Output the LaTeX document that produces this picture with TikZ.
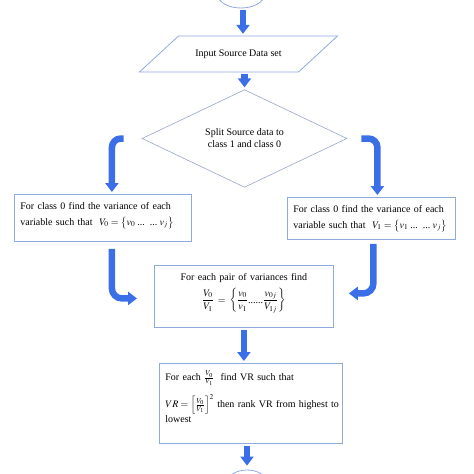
\documentclass[tikz,border=0pt]{standalone}
\usepackage{mathptmx}
\usepackage{fontspec}
\setmainfont{Liberation Serif}
\usetikzlibrary{shapes.geometric,arrows.meta}
\definecolor{flowblue}{RGB}{59,111,232}
\definecolor{boxblue}{RGB}{143,170,220}
\definecolor{diamondgray}{RGB}{150,165,200}
\begin{document}
\begin{tikzpicture}[x=1pt,y=-1pt,
  flowarrow/.style={line width=6.5pt,flowblue,-{Triangle[width=13pt,length=9pt]},shorten <=2pt,shorten >=2pt},
  boxline/.style={draw=boxblue,line width=0.8pt},
  procbox/.style={boxline,align=left,inner xsep=6pt,inner ysep=0pt,anchor=north west},
  terminal/.style={ellipse,boxline,inner sep=0pt}]
  \useasboundingbox (0,0) rectangle (474,474);
  % terminals
  \node[terminal,minimum width=46pt,minimum height=26pt] (start) at (241,-5) {};
  \node[terminal,minimum width=40pt,minimum height=26pt] (stop) at (247,483) {};
  % input (parallelogram) and decision
  \node[minimum width=198pt,minimum height=36pt] (input) at (238.5,54) {Input Source Data set};
  \draw[boxline] ([shift={(-60,-18)}]input.center) -- ++(159,0) -- ++(-39,36) -- ++(-159,0) -- cycle;
  \node[diamond,draw=diamondgray,line width=0.6pt,align=center,inner sep=0pt,
        minimum width=205pt,minimum height=87pt] (split) at (244.5,138.5) {Split Source data to\\class 1 and class 0};
  % process boxes
  \node[procbox,text width=165pt,text height=15pt,text depth=32pt] (varzero) at (14,194)
    {For class 0 find the variance of each\\[4pt] variable such that\ \ $V_0=\bigl\{v_0\;\mbox{... ...}\;v_j\bigr\}$};
  \node[procbox,text width=156pt,text height=15pt,text depth=27pt] (varone) at (287,197)
    {For class 0 find the variance of each\\[4pt] variable such that\ \ $V_1=\bigl\{v_1\;\mbox{... ...}\;v_j\bigr\}$};
  \node[procbox,align=center,text width=167pt,text height=15pt,text depth=47pt] (ratio) at (154,265)
    {For each pair of variances find\\[5pt] $\displaystyle\frac{V_0}{V_1}=\left\{\frac{v_0}{v_1}\mbox{......}\frac{v_{0j}}{V_{1j}}\right\}$};
  \node[procbox,text width=171pt,text height=17pt,text depth=63pt] (rank) at (159,363)
    {For each $\frac{V_0}{V_1}$\ \ find VR such that\\[8pt]
     \mbox{$VR=\left[\frac{V_0}{V_1}\right]^2$ then rank VR from highest to}\\ lowest};
  % connectors
  \draw[flowarrow] ([xshift=2pt]start.south) -- ([xshift=2pt]start.south |- input.north);
  \draw[flowarrow] (input.south -| split.north) -- (split.north);
  \draw[flowarrow,rounded corners=9pt] ([xshift=-16pt]split.west) -| ([xshift=9pt]varzero.north);
  \draw[flowarrow,rounded corners=9pt] ([xshift=12pt]split.east) -| ([xshift=6pt]varone.north);
  \draw[flowarrow,rounded corners=10pt] ([xshift=9pt,yshift=-5pt]varzero.south) |- ([xshift=-15pt,yshift=-2pt]ratio.west);
  \draw[flowarrow,rounded corners=10pt] ([xshift=2pt,yshift=-2pt]varone.south) |- ([xshift=13pt,yshift=3pt]ratio.east);
  \draw[flowarrow] (ratio.south) -- (ratio.south |- rank.north);
  \draw[flowarrow,shorten >=4pt] (rank.south -| stop.north) -- (stop.north);
\end{tikzpicture}
\end{document}
